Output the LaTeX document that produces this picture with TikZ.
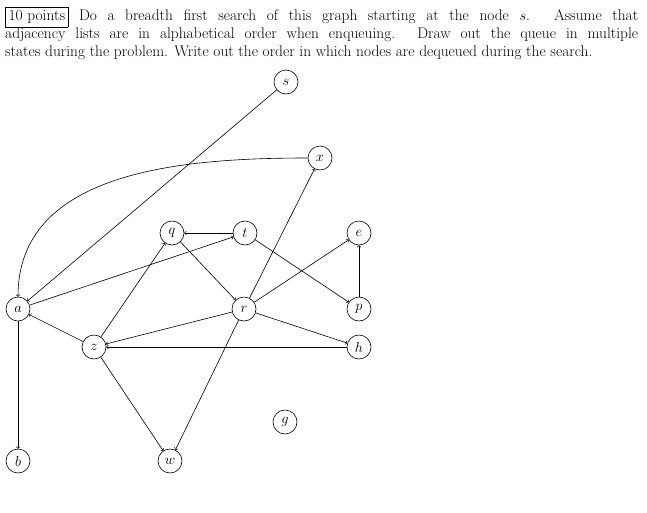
\documentclass[tikz,border=0pt]{standalone}
\begin{document}
\begin{tikzpicture}[x=1pt,y=-1pt,
  vtx/.style={draw,semithick,circle,minimum size=24pt,inner sep=0pt,font=\fontsize{15}{15}\selectfont},
  arr/.style={->,semithick}]
\useasboundingbox (0,0) rectangle (647,512);
\node[anchor=north west,align=justify,text width=633pt,inner sep=0pt,font=\fontsize{15.4}{18}\selectfont] (txt) at (5,7)
{\fbox{10 points} Do a breadth first search of this graph starting at the node $s$. Assume that\linebreak adjacency lists are in alphabetical order when enqueuing. Draw out the queue in multiple\linebreak states during the problem. Write out the order in which nodes are dequeued during the search.};
\node[vtx] (s) at (286,82) {$s$};
\node[vtx] (x) at (320,158) {$x$};
\node[vtx] (q) at (172,233) {$q$};
\node[vtx] (t) at (245,233) {$t$};
\node[vtx] (e) at (359,233) {$e$};
\node[vtx] (a) at (18,309) {$a$};
\node[vtx] (r) at (244,309) {$r$};
\node[vtx] (p) at (359,309) {$p$};
\node[vtx] (z) at (94,347) {$z$};
\node[vtx] (h) at (359,347) {$h$};
\node[vtx] (g) at (285,422) {$g$};
\node[vtx] (b) at (18,461) {$b$};
\node[vtx] (w) at (170,461) {$w$};
\draw[arr] (s) -- (a);
\draw[arr] (x) to[out=180,in=90,looseness=1.0] (a);
\draw[arr] (a) -- (t);
\draw[arr] (t) -- (q);
\draw[arr] (q) -- (r);
\draw[arr] (t) -- (p);
\draw[arr] (r) -- (x);
\draw[arr] (r) -- (e);
\draw[arr] (p) -- (e);
\draw[arr] (r) -- (z);
\draw[arr] (r) -- (h);
\draw[arr] (h) -- (z);
\draw[arr] (r) -- (w);
\draw[arr] (z) -- (q);
\draw[arr] (z) -- (a);
\draw[arr] (z) -- (w);
\draw[arr] (a) -- (b);
\end{tikzpicture}
\end{document}
